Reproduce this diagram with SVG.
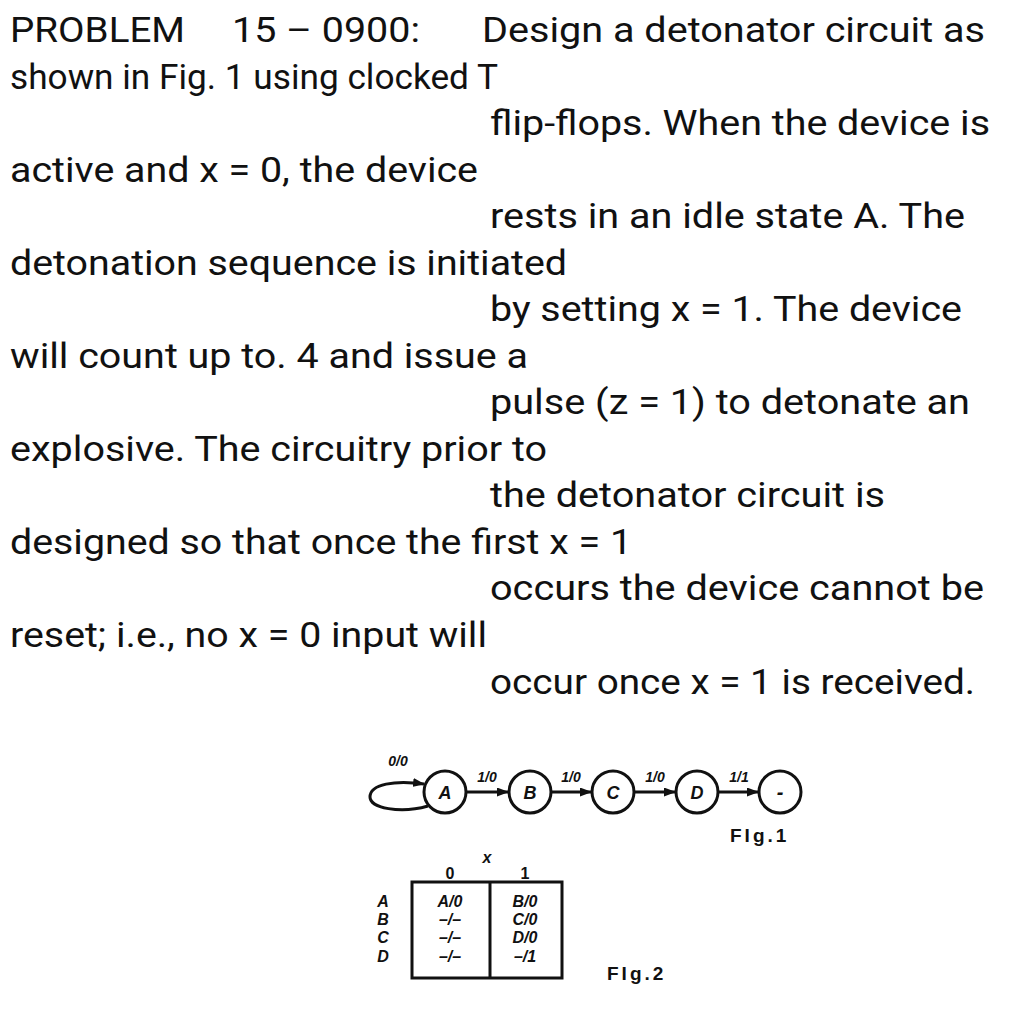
<svg xmlns="http://www.w3.org/2000/svg" width="1012" height="1024" viewBox="0 0 1012 1024">
<style>
.t{font-family:Roboto,"Liberation Sans",sans-serif;font-size:35px;fill:#111}
.f{font-family:"Liberation Sans",Arial,sans-serif;font-weight:bold;font-style:italic;fill:#111;text-anchor:middle}
.n{fill:#fff;stroke:#111;stroke-width:3}
.c{stroke:#111;stroke-width:3;fill:none}
</style>
<defs><marker id="a" markerWidth="12" markerHeight="9" refX="11" refY="4.5" orient="auto" markerUnits="userSpaceOnUse"><path d="M0,0L12,4.5L0,9z" fill="#111"/></marker></defs>
<rect width="1012" height="1024" fill="#fff"/>
<g id="text" class="t">
<text x="10" y="42" textLength="175" lengthAdjust="spacingAndGlyphs">PROBLEM</text>
<text x="232" y="42" textLength="188" lengthAdjust="spacingAndGlyphs">15 – 0900:</text>
<text x="482" y="42" textLength="503" lengthAdjust="spacingAndGlyphs">Design a detonator circuit as</text>
<text x="10" y="89" textLength="488" lengthAdjust="spacingAndGlyphs">shown in Fig. 1 using clocked T</text>
<text x="490" y="135" textLength="500" lengthAdjust="spacingAndGlyphs">flip-flops. When the device is</text>
<text x="10" y="182" textLength="468" lengthAdjust="spacingAndGlyphs">active and x = 0, the device</text>
<text x="490" y="228" textLength="475" lengthAdjust="spacingAndGlyphs">rests in an idle state A. The</text>
<text x="10" y="275" textLength="557" lengthAdjust="spacingAndGlyphs">detonation sequence is initiated</text>
<text x="490" y="321" textLength="472" lengthAdjust="spacingAndGlyphs">by setting x = 1. The device</text>
<text x="10" y="368" textLength="518" lengthAdjust="spacingAndGlyphs">will count up to. 4 and issue a</text>
<text x="490" y="414" textLength="480" lengthAdjust="spacingAndGlyphs">pulse (z = 1) to detonate an</text>
<text x="10" y="461" textLength="537" lengthAdjust="spacingAndGlyphs">explosive. The circuitry prior to</text>
<text x="490" y="507" textLength="395" lengthAdjust="spacingAndGlyphs">the detonator circuit is</text>
<text x="10" y="554" textLength="622" lengthAdjust="spacingAndGlyphs">designed so that once the first x = 1</text>
<text x="490" y="600" textLength="494" lengthAdjust="spacingAndGlyphs">occurs the device cannot be</text>
<text x="10" y="647" textLength="477" lengthAdjust="spacingAndGlyphs">reset; i.e., no x = 0 input will</text>
<text x="490" y="694" textLength="485" lengthAdjust="spacingAndGlyphs">occur once x = 1 is received.</text>
</g>
<g id="connectors">
<path class="c" d="M428,806 C400,814 370,808 370,797 C370,784 395,780 424,784" marker-end="url(#a)"/>
<line class="c" x1="466" y1="792" x2="508" y2="792" marker-end="url(#a)"/>
<line class="c" x1="551" y1="792" x2="591" y2="792" marker-end="url(#a)"/>
<line class="c" x1="634" y1="792" x2="675" y2="792" marker-end="url(#a)"/>
<line class="c" x1="718" y1="792" x2="758" y2="792" marker-end="url(#a)"/>
<g class="f" font-size="14" font-style="normal">
<text x="398" y="766">0/0</text>
<text x="487" y="782">1/0</text>
<text x="571" y="782">1/0</text>
<text x="655" y="782">1/0</text>
<text x="739" y="782">1/1</text>
</g>
</g>
<g id="A"><circle class="n" cx="445" cy="792" r="21"/><text class="f" x="445" y="799" font-size="18">A</text></g>
<g id="B"><circle class="n" cx="530" cy="792" r="21"/><text class="f" x="530" y="799" font-size="18">B</text></g>
<g id="C"><circle class="n" cx="613" cy="792" r="21"/><text class="f" x="613" y="799" font-size="18">C</text></g>
<g id="D"><circle class="n" cx="697" cy="792" r="21"/><text class="f" x="697" y="799" font-size="18">D</text></g>
<g id="E"><circle class="n" cx="780" cy="792" r="21"/><text class="f" x="780" y="799" font-size="20" font-style="normal">-</text></g>
<text x="730" y="842" font-family="'Liberation Sans',sans-serif" font-weight="bold" font-size="19" fill="#111" letter-spacing="3">FIg.1</text>
<g id="table">
<rect x="412" y="882" width="150" height="96" fill="none" stroke="#111" stroke-width="3"/>
<line x1="490" y1="882" x2="490" y2="978" stroke="#111" stroke-width="3"/>
<g class="f" font-size="16">
<text x="487" y="863">x</text>
<text x="450" y="879" font-style="normal">0</text>
<text x="525" y="879" font-style="normal">1</text>
<text x="383" y="907">A</text><text x="383" y="925">B</text><text x="383" y="943">C</text><text x="383" y="962">D</text>
<text x="450" y="907">A/0</text><text x="450" y="925">–/–</text><text x="450" y="943">–/–</text><text x="450" y="962">–/–</text>
<text x="525" y="907">B/0</text><text x="525" y="925">C/0</text><text x="525" y="943">D/0</text><text x="525" y="962">–/1</text>
</g>
</g>
<text x="607" y="980" font-family="'Liberation Sans',sans-serif" font-weight="bold" font-size="19" fill="#111" letter-spacing="3">FIg.2</text>
</svg>
